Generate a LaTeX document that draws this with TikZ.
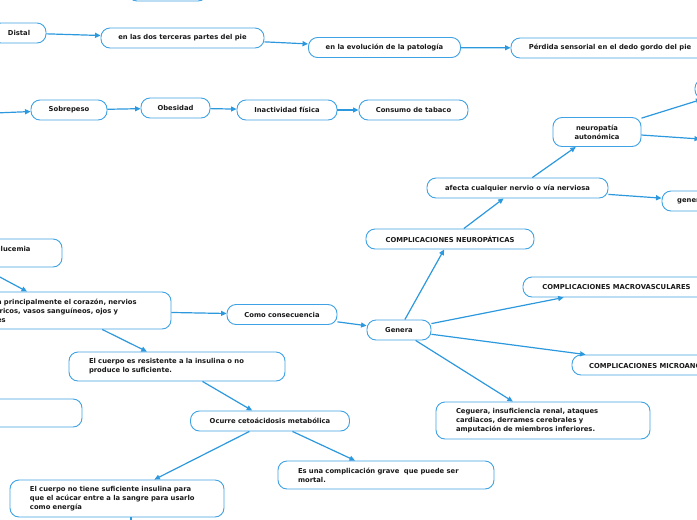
\documentclass[tikz,border=0pt]{standalone}
\usepackage{fontspec}
\setmainfont{DejaVu Sans}
\usetikzlibrary{arrows.meta}
\definecolor{linea}{RGB}{44,152,222}
\definecolor{borde}{RGB}{62,162,228}
\definecolor{texto}{RGB}{25,25,25}
\tikzset{%
caja/.style={draw=borde,line width=0.9pt,rounded corners=9pt,minimum height=20pt,inner sep=2pt,text=texto,font=\fontsize{6.8}{9}\selectfont\bfseries},
nota/.style={caja,align=left,inner xsep=20pt},
flecha/.style={linea,line width=1.2pt,-{Triangle[length=5.5pt,width=5pt]}}
}

\begin{document}
\begin{tikzpicture}[x=1pt,y=-1pt]
\useasboundingbox (0,0) rectangle (697,520);
\clip (0,0) rectangle (697,520);
%% cajas de una linea
\foreach \txt/\name/\i/\j/\w in {Distal/Distal/19/33/54pt,
                                 en las dos terceras partes del pie/DosTerc/182.5/38/163pt,
                                 en la evolución de la patología/Evol/384.5/47.5/152pt,
                                 Pérdida sensorial en el dedo gordo del pie/Perdida/610/48/198pt,
                                 Sobrepeso/Sobrep/69/110/76pt,
                                 Obesidad/Obes/175.5/108/69pt,
                                 Inactividad física/Inact/287/110/100pt,
                                 Consumo de tabaco/Consumo/413.5/110/109pt%
                                }
     \node[caja,minimum width=\w] (\name) at (\i,\j) {\txt};
%%
\foreach \txt/\name/\i/\j/\w in {afecta cualquier nervio o vía nerviosa/AfectaNerv/517.5/188/181pt,
                                 generalizada/Gene/702/201/80pt,
                                 COMPLICACIONES NEUROPÁTICAS/CompNeuro/450/239/168pt,
                                 Genera/Genera/399/330/64pt,
                                 COMPLICACIONES MACROVASCULARES/CompMacro/616.5/287/187pt,
                                 COMPLICACIONES MICROANGIOPÁTICAS/CompMicro/665/365/186pt,
                                 Como consecuencia/ComoCons/282/314.5/110pt,
                                 Ocurre cetoácidosis metabólica/Ocurre/270/421/159pt%
                                }
     \node[caja,minimum width=\w] (\name) at (\i,\j) {\txt};
%%
\node[caja,minimum width=79pt]  (Arriba)   at (167.5,-9) {};
\node[caja,minimum width=80pt]  (Derecha)  at (735,89)   {};
\node[caja,minimum width=124pt,minimum height=28pt] (Izquierda) at (20,413) {};
\node[caja,align=center,minimum width=88pt,minimum height=29pt] (NeuroAut) at (597,132) {neuropatía\\autonómica};
%%
\node[nota,text width=67pt,minimum height=28pt]  (Gluc)       at (8.5,253)   {Hiperglucemia\\\mbox{}};
\node[nota,text width=174pt,minimum height=37pt] (AfectaPpal) at (64,310.5)  {Afecta principalmente el corazón, nervios\\periféricos, vasos sanguíneos, ojos y\\riñones};
\node[nota,text width=176pt,minimum height=29pt] (Resist)     at (177,366.5) {El cuerpo es resistente a la insulina o no\\produce lo suficiente.};
\node[nota,text width=176pt,minimum height=28pt] (Grave)      at (386,475)   {Es una complicación grave\ \ que puede ser\\mortal.};
\node[nota,text width=174pt,minimum height=37pt] (CuerpoNo)   at (117,498.5) {El cuerpo no tiene suficiente insulina para\\que el acúcar entre a la sangre para usarlo\\como energía};
\node[nota,text width=174pt,minimum height=37pt] (Ceguera)    at (543,420.5) {Ceguera, insuficiencia renal, ataques\\cardiacos, derrames cerebrales y\\amputación de miembros inferiores.};
%%
\coordinate (FueraA) at (-30,114);
\coordinate (FueraB) at (700,139);
\coordinate (FueraC) at (131,545);
%%%%%%%%%%%%%%
\draw[flecha] (Distal)  -- (DosTerc);
\draw[flecha] (DosTerc) -- (Evol);
\draw[flecha] (Evol)    -- (Perdida);
%%
\draw[flecha] (FueraA) -- (Sobrep);
\draw[flecha] (Sobrep) -- (Obes);
\draw[flecha] (Obes)   -- (Inact);
\draw[flecha] (Inact)  -- (Consumo);
%%
\draw[flecha] (NeuroAut)   -- (Derecha);
\draw[flecha] (NeuroAut)   -- (FueraB);
\draw[flecha] (AfectaNerv) -- (NeuroAut);
\draw[flecha] (AfectaNerv) -- (Gene);
\draw[flecha] (CompNeuro)  -- (AfectaNerv);
%%
\draw[flecha] (Genera) -- (CompNeuro);
\draw[flecha] (Genera) -- (CompMacro);
\draw[flecha] (Genera) -- (CompMicro);
\draw[flecha] (Genera) -- (Ceguera);
\draw[flecha] (ComoCons) -- (Genera);
%%
\draw[flecha] ([xshift=-26.5pt]Gluc.south) -- ([xshift=-37pt]AfectaPpal.north);
\draw[flecha] (AfectaPpal) -- (ComoCons);
\draw[flecha] (AfectaPpal) -- (Resist);
\draw[flecha] (Resist)     -- (Ocurre);
\draw[flecha] (Ocurre)     -- (Grave);
\draw[flecha] (Ocurre)     -- (CuerpoNo);
\draw[flecha] ([xshift=14pt]CuerpoNo.south) -- (FueraC);
\end{tikzpicture}
\end{document}
